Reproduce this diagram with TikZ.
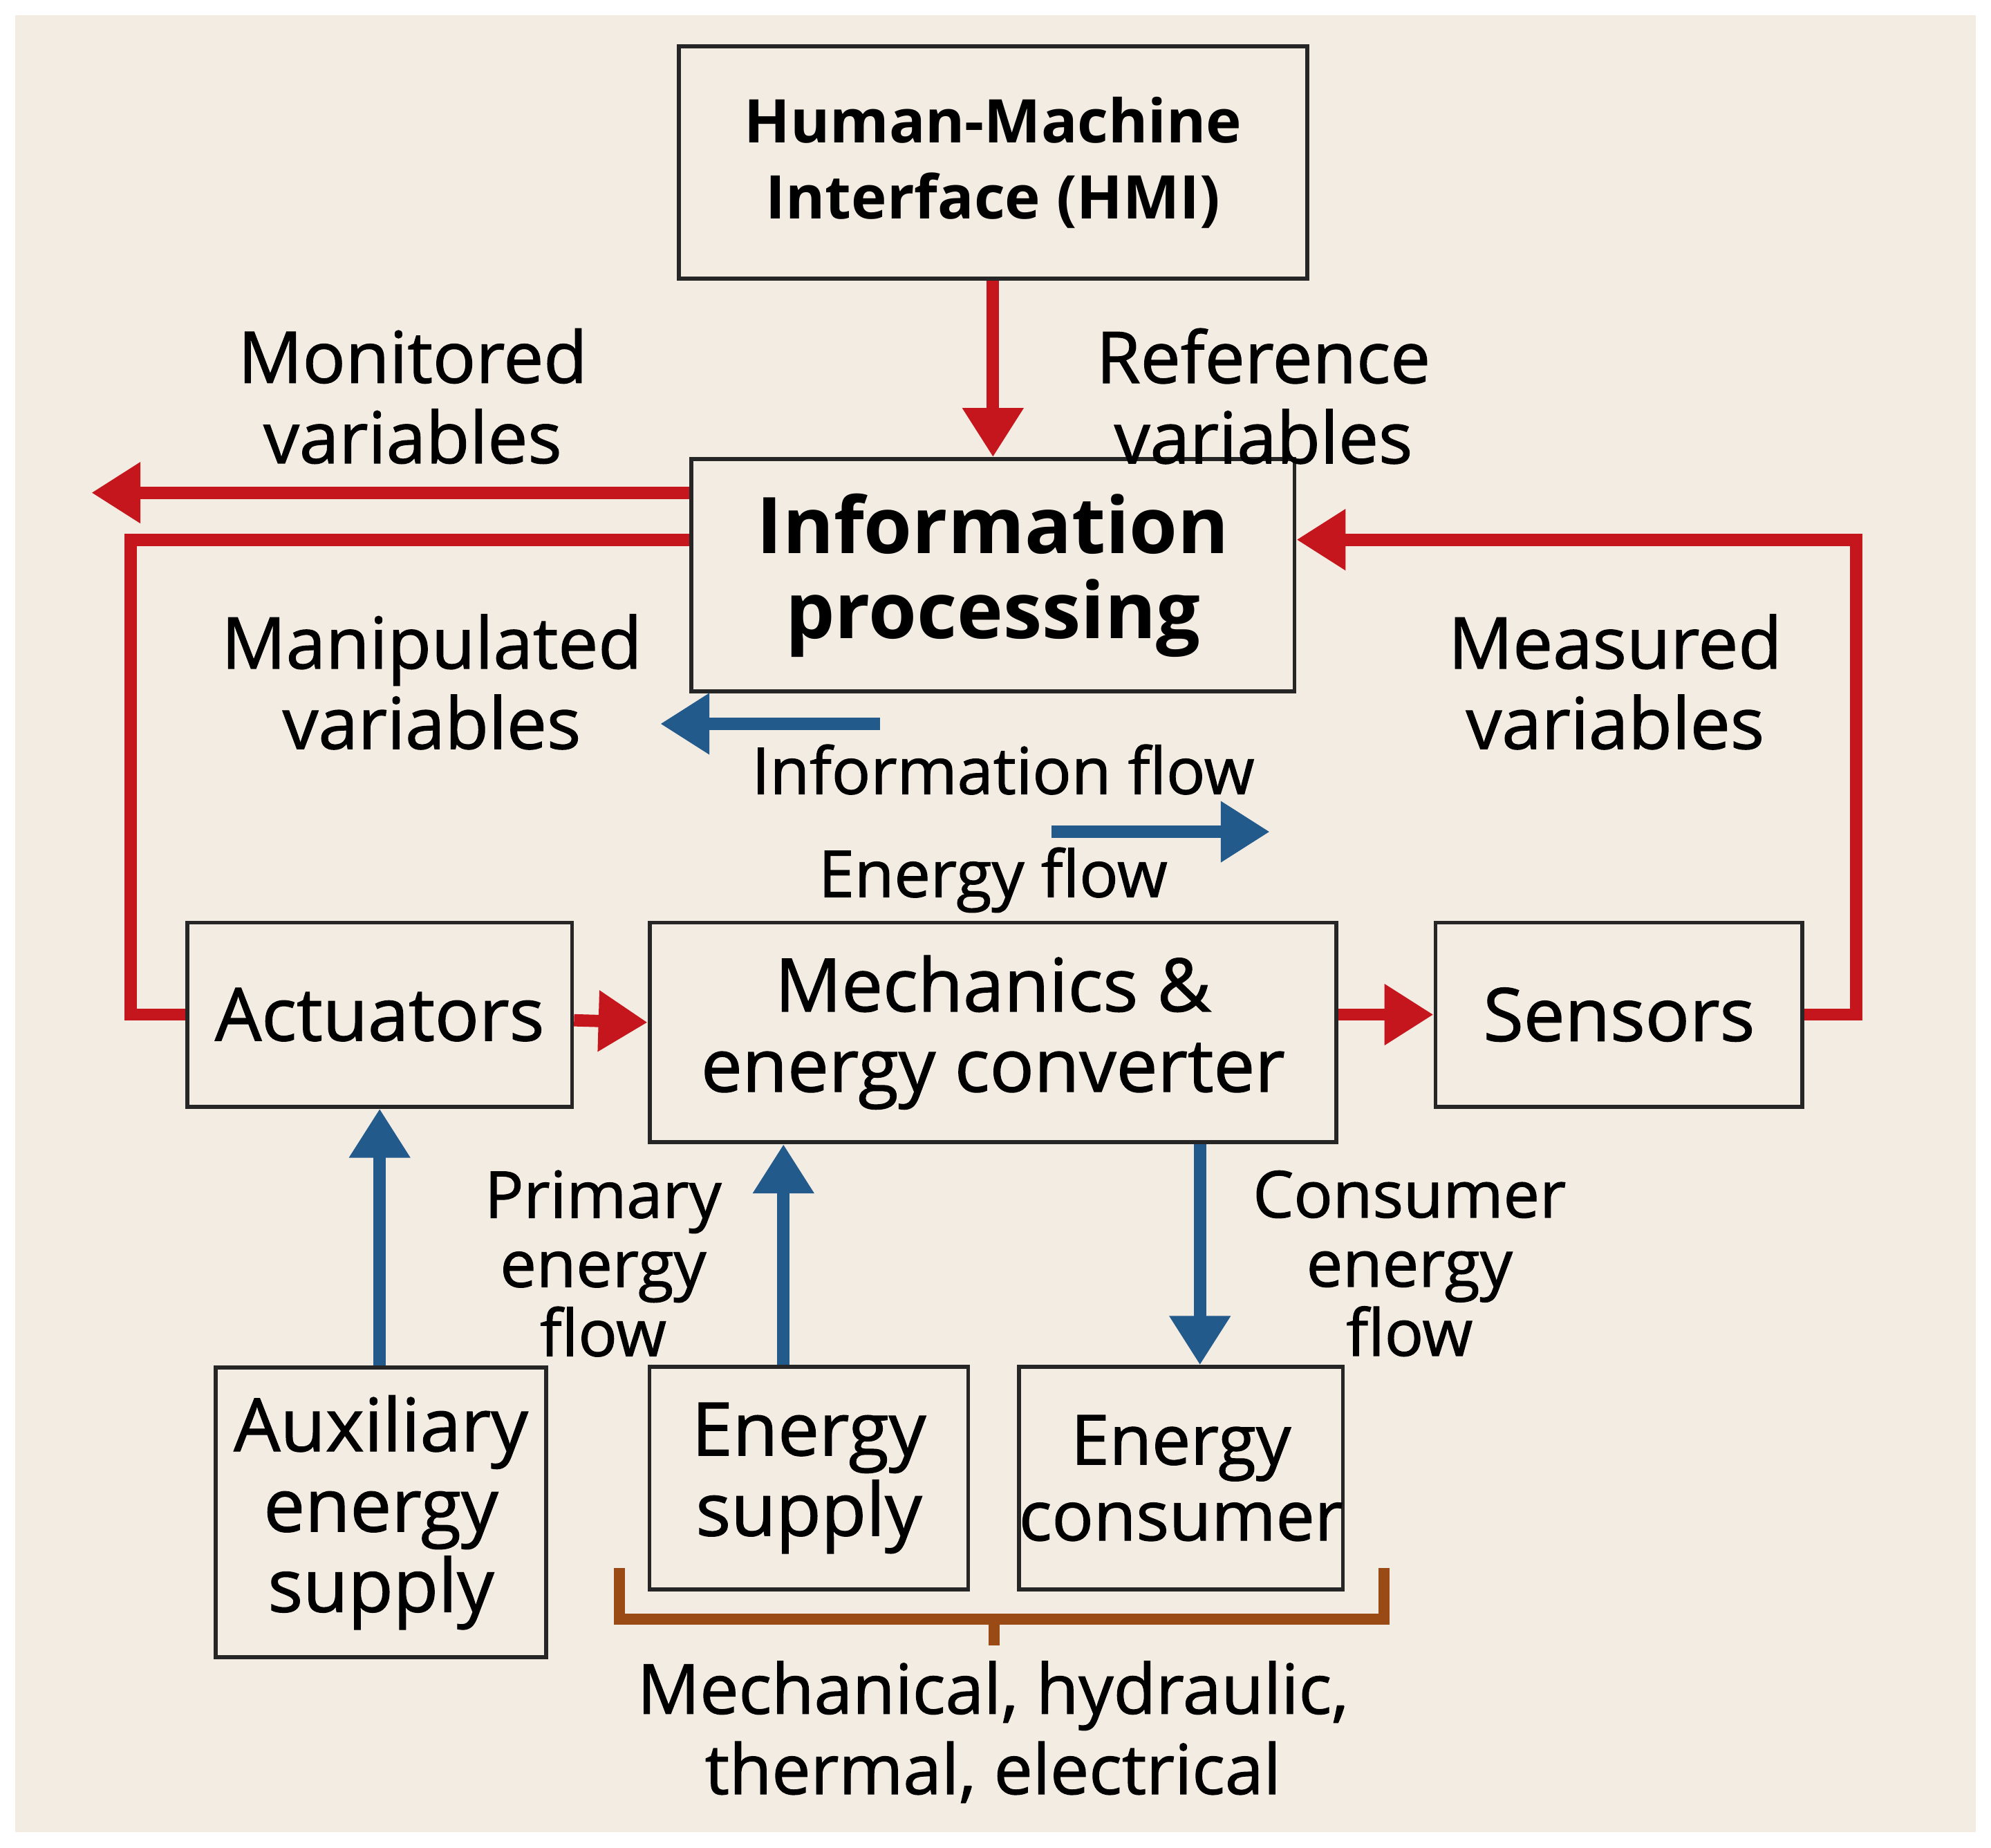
\documentclass[tikz,border=0pt]{standalone}
\usepackage{fontspec}
\setmainfont{Open Sans}
\newfontfamily\semib{Open Sans}[FakeBold=1.2]
\usetikzlibrary{arrows.meta,positioning}
\definecolor{bgbeige}{HTML}{F3ECE3}
\definecolor{flowred}{HTML}{C4161C}
\definecolor{flowblue}{HTML}{235A8C}
\definecolor{bracebrown}{HTML}{9A4A14}
\tikzset{
  box/.style={draw=black!85, line width=1.8pt, fill=bgbeige, align=center, inner sep=0pt, font=\semib\fontsize{33}{36}\selectfont},
  lbl/.style={align=center, font=\semib\fontsize{32}{36}\selectfont},
  redflow/.style={draw=flowred, line width=5.5pt, -{Triangle[length=22pt,width=26pt]}},
  blueflow/.style={draw=flowblue, line width=5.5pt, -{Triangle[length=22pt,width=26pt]}},
}
\begin{document}
\begin{tikzpicture}[x=0.02cm,y=-0.02cm]
\useasboundingbox (0,0) rectangle (1568,1455);
\fill[white] (0,0) rectangle (1568,1455);
\fill[bgbeige] (12,12) rectangle (1556,1443);
% boxes
\node[box, minimum width=9.9cm, minimum height=3.66cm, font=\bfseries\fontsize{27}{34}\selectfont] (hmi) at (782,128) {Human-Machine\\Interface (HMI)};
\node[box, minimum width=9.5cm, minimum height=3.66cm, font=\bfseries\fontsize{35}{38}\selectfont] (info) at (782,453) {Information\\processing};
\node[box, minimum width=6.06cm, minimum height=2.9cm] (act) at (299,799) {Actuators};
\node[box, minimum width=10.82cm, minimum height=3.46cm] (mech) at (782,813) {Mechanics \&\\energy converter};
\node[box, minimum width=5.78cm, minimum height=2.9cm] (sens) at (1275,799) {Sensors};
\node[box, minimum width=5.2cm, minimum height=4.56cm] (aux) at (300,1191) {Auxiliary\\energy\\supply};
\node[box, minimum width=5.02cm, minimum height=3.5cm] (supply) at (637,1164) {Energy\\supply};
\node[box, minimum width=5cm, minimum height=3.5cm, font=\semib\fontsize{31}{34}\selectfont] (cons) at (930,1164) {Energy\\consumer};
% labels
\node[lbl] (monl) at (325,312) {Monitored\\variables};
\node[lbl] (refl) at (995,312) {Reference\\variables};
\node[lbl] (manl) at (340,537) {Manipulated\\variables};
\node[lbl] (measl) at (1272,537) {Measured\\variables};
\node[lbl, font=\semib\fontsize{29}{32}\selectfont] (infol) at (790,606) {Information flow};
\node[lbl, font=\semib\fontsize{29}{32}\selectfont] (enl) at (782,693) {Energy flow};
\node[lbl, font=\semib\fontsize{29}{31}\selectfont] (priml) at (475,995) {Primary\\energy\\flow};
\node[lbl, font=\semib\fontsize{29}{31}\selectfont] (consl) at (1110,995) {Consumer\\energy\\flow};
\node[lbl, font=\semib\fontsize{31}{36}\selectfont] (kinds) at (782,1364) {Mechanical, hydraulic,\\thermal, electrical};
% red information flows
\coordinate (monend) at (72,388);
\coordinate (manc) at (103,425);
\coordinate (measc) at (1462,425);
\draw[redflow] (hmi) -- (info);
\draw[redflow] (info.west |- monend) -- (monend);
\draw[flowred, line width=5.5pt, line join=miter] (info.west |- manc) -- (manc) |- (act.west);
\draw[redflow] (act) -- (mech);
\draw[redflow] (mech.east |- sens) -- (sens);
\draw[redflow, line join=miter] (sens.east) -| (measc) -- (info.east |- measc);
% blue energy flows
\coordinate (ifa) at (693,570); \coordinate (ifb) at (520,570);
\coordinate (efa) at (828,655); \coordinate (efb) at (1000,655);
\draw[blueflow] (ifa) -- (ifb);
\draw[blueflow] (efa) -- (efb);
\draw[blueflow] (aux.north -| act) -- (act.south);
\draw[blueflow] (supply.north -| 617,0) -- (mech.south -| 617,0);
\draw[blueflow] (mech.south -| 945,0) -- (cons.north -| 945,0);
% bracket
\coordinate (bl) at (488,1235); \coordinate (br) at (1090,1235);
\draw[bracebrown, line width=5pt] (bl) -- ++(0,40) -- ++(602,0) -- (br);
\draw[bracebrown, line width=5pt] (783,1275) -- (783,1296);
\end{tikzpicture}
\end{document}
